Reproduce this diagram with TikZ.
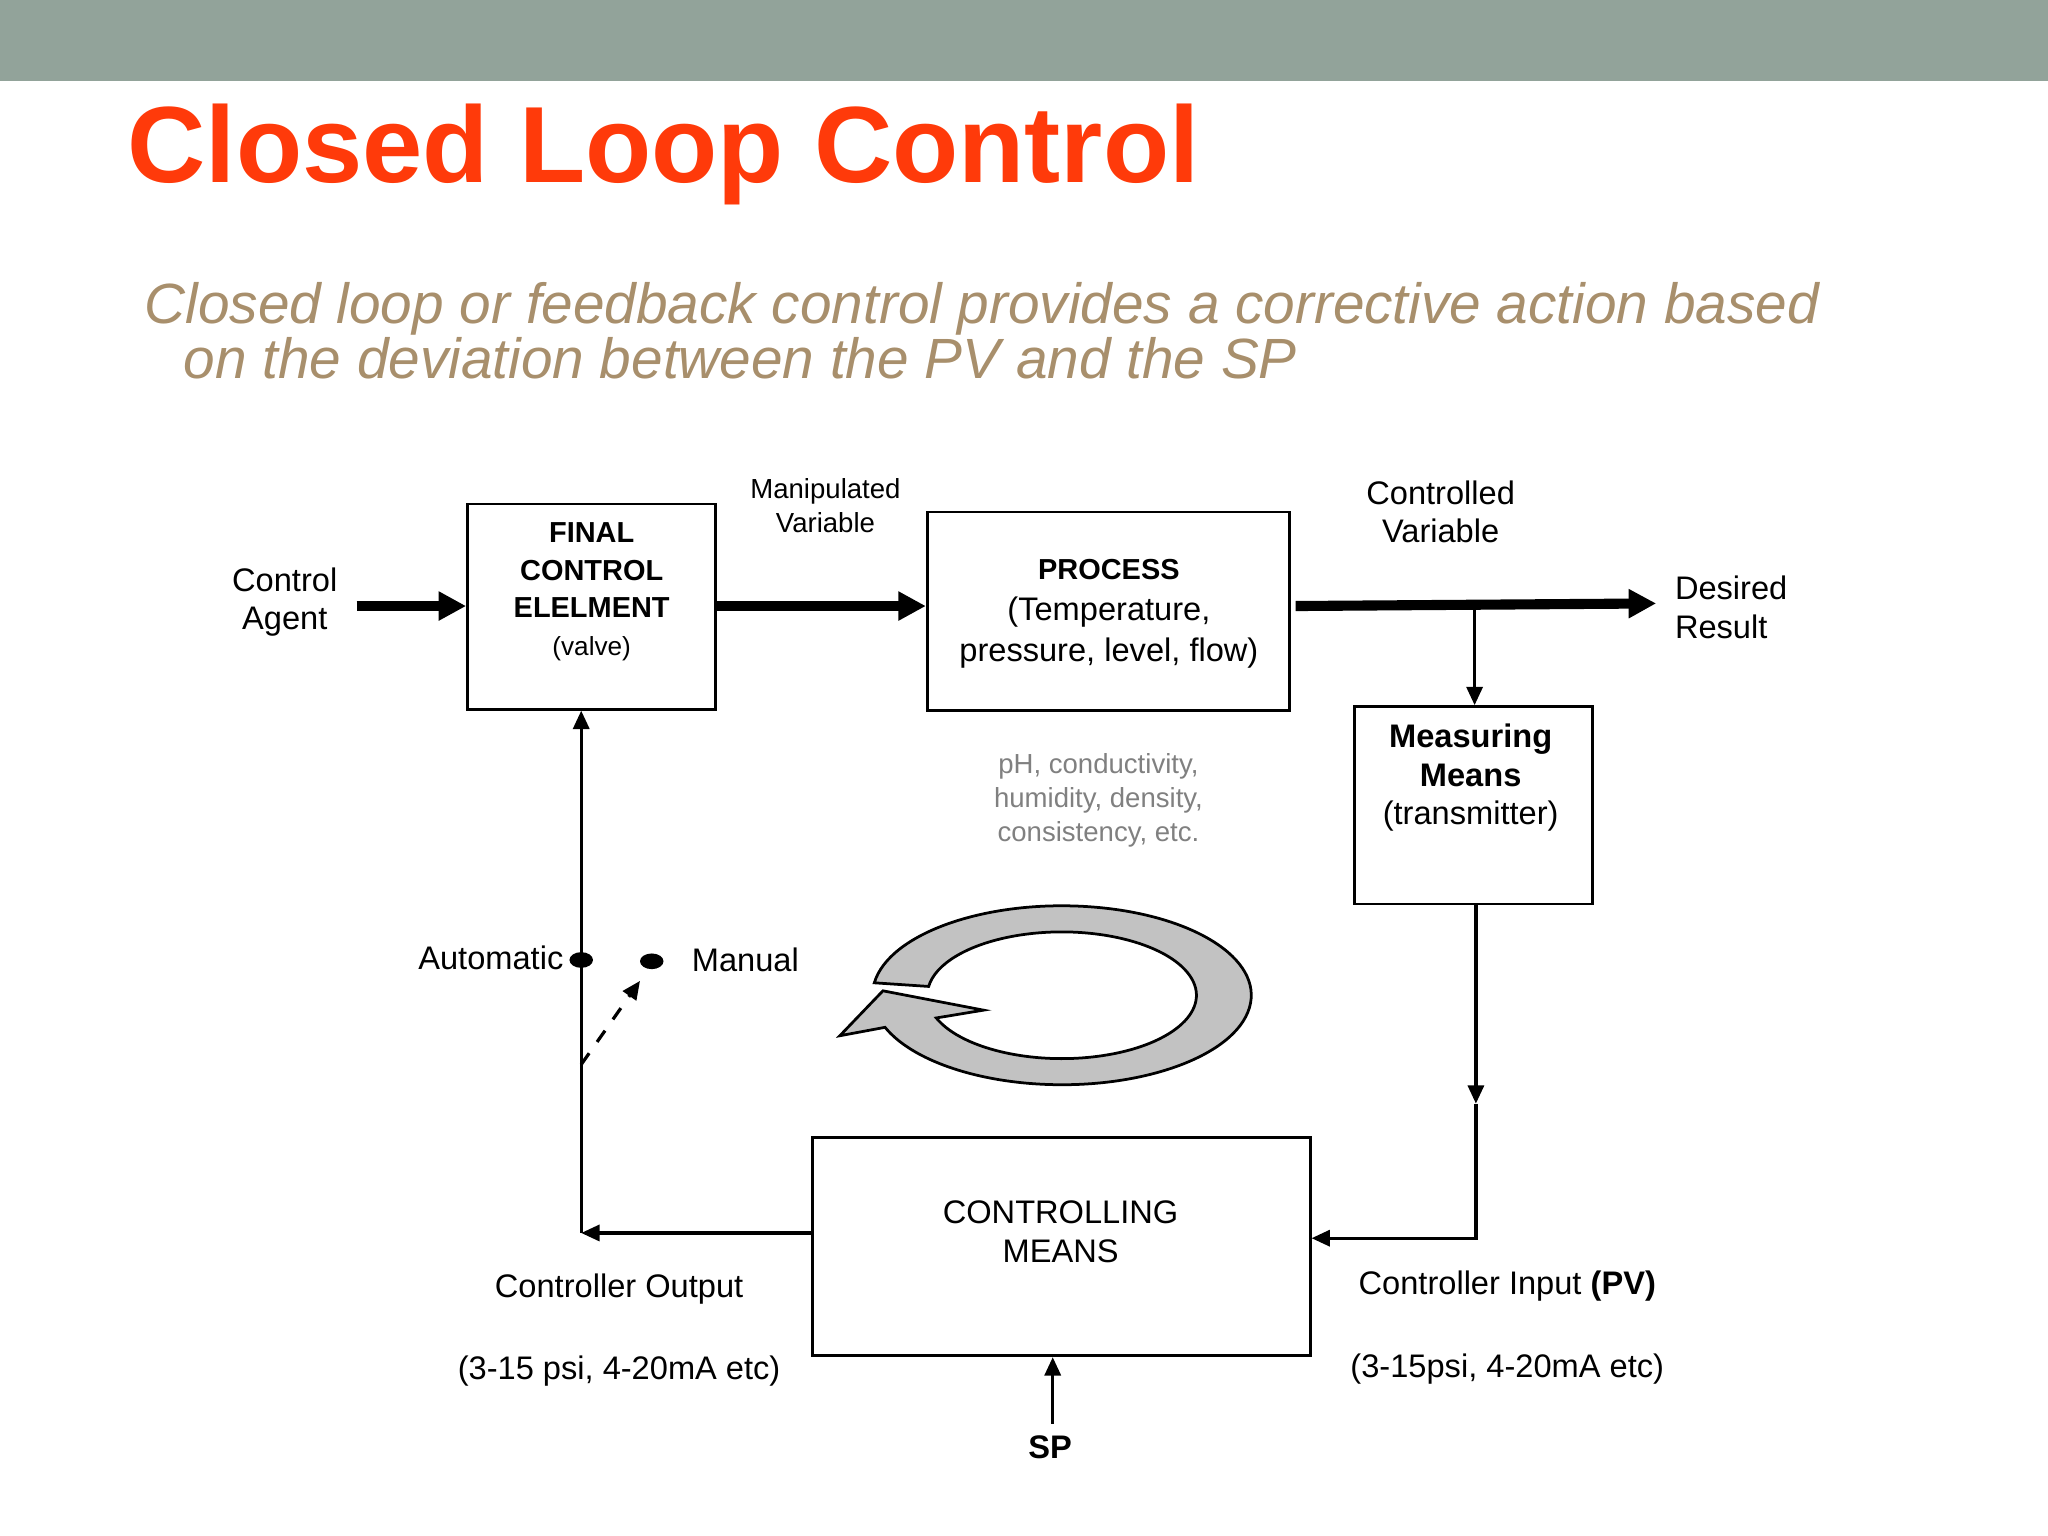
\documentclass[tikz,border=0pt]{standalone}
\usepackage{fontspec}
\setmainfont{Liberation Sans}
\usetikzlibrary{arrows.meta,calc}
\definecolor{band}{HTML}{92A39A}
\definecolor{ttl}{HTML}{FF3A0A}
\definecolor{sub}{HTML}{A88F6C}
\begin{document}
\begin{tikzpicture}[x=0.01cm,y=-0.01cm,
  box/.style={draw,line width=0.6pt,inner sep=0pt},
  thick/.style={line width=2.2pt,-{Triangle[length=6pt,width=6pt]}},
  thin/.style={line width=0.7pt,-{Triangle[length=4pt,width=3.5pt]}},
  lbl/.style={font=\fontsize{7.1}{8.4}\selectfont,align=center},
  btxt/.style={font=\fontsize{6.3}{8.2}\selectfont,align=center}]
\useasboundingbox (0,0) rectangle (1568,1176);
\fill[band] (0,0) rectangle (1568,62);
\node[anchor=base west,text=ttl,font=\bfseries\fontsize{23.6}{28}\selectfont,inner sep=0] (title) at (97,140) {Closed Loop Control};
\node[anchor=base west,text=sub,font=\itshape\fontsize{12.35}{14}\selectfont,inner sep=0] (s1) at (110,248) {Closed loop or feedback control provides a corrective action based};
\node[anchor=base west,text=sub,font=\itshape\fontsize{12.35}{14}\selectfont,inner sep=0] (s2) at (140,290) {on the deviation between the PV and the SP};
% boxes
\node[box,minimum width=1.9cm,minimum height=1.57cm] (fce) at (453,464.5) {};
\node[btxt] (fcet) at (453,453) {\textbf{FINAL}\\\textbf{CONTROL}\\\textbf{ELELMENT}\\{\fontsize{5.7}{7.5}\selectfont(valve)}};
\node[box,minimum width=2.77cm,minimum height=1.52cm] (proc) at (848.5,468) {};
\node[btxt,font=\fontsize{7.1}{9}\selectfont] (proct) at (849,470) {{\fontsize{6.3}{8}\selectfont\textbf{PROCESS}}\\(Temperature,\\pressure, level, flow)};
\node[box,minimum width=1.82cm,minimum height=1.51cm] (meas) at (1128,616.5) {};
\node[btxt,anchor=north,font=\fontsize{7.1}{8.4}\selectfont] (meastxt) at (1126,542) {\textbf{Measuring}\\\textbf{Means}\\(transmitter)};
\node[box,minimum width=3.81cm,minimum height=1.67cm] (cm) at (812.5,954.5) {};
\node[lbl] (cmt) at (812,943) {CONTROLLING\\MEANS};
% labels
\node[lbl] (ca) at (218,461) {Control\\Agent};
\node[lbl,font=\fontsize{6}{7.4}\selectfont] (mv) at (632,387) {Manipulated\\Variable};
\node[lbl] (cv) at (1103,392) {Controlled\\Variable};
\node[lbl,align=left,anchor=west] (dr) at (1270,465) {Desired\\Result};
\node[lbl,text=gray,font=\fontsize{6}{7.4}\selectfont] (ph) at (841,613) {pH, conductivity,\\humidity, density,\\consistency, etc.};
\node[lbl,anchor=east,inner sep=0] (auto) at (432,733) {Automatic};
\node[lbl,anchor=west,inner sep=0] (man) at (529,735) {Manual};
\node[lbl] (co) at (474,987) {Controller Output};
\node[lbl] (co2) at (474,1050) {(3-15 psi, 4-20mA etc)};
\node[lbl] (ci) at (1154,985) {Controller Input \textbf{(PV)}};
\node[lbl] (ci2) at (1154,1048) {(3-15psi, 4-20mA etc)};
\node[lbl,font=\bfseries\fontsize{7.1}{8}\selectfont] (sp) at (804,1108) {SP};
% coordinates
\coordinate (caE) at (273,464);
\coordinate (pE) at (992,464);
\coordinate (dre) at (1268,462);
\coordinate (br) at (1129,463);
\coordinate (m1) at (1130,845);
\coordinate (m2) at (1130,948);
\coordinate (o1) at (445,944);
\coordinate (sw) at (445,815);
\coordinate (spb) at (806,1090);
% connectors
\draw[thick] (caE) -- (fce.west |- caE);
\draw[thick] (fce.east |- caE) -- (proc.west |- caE);
\draw[thick] (pE) -- (dre);
\draw[thin] (br) -- (meas.north -| br);
\draw[thin] (meas.south -| m1) -- (m1);
\draw[thin] (m1) -- (m2) -- (cm.east |- m2);
\draw[thin] (cm.west |- o1) -- (o1);
\draw[thin] (o1) -- (fce.south -| o1);
\fill (445,735) ellipse (9 and 6);
\fill (499,736) ellipse (9 and 6);
\draw[thin,dashed] (sw) -- (490,751);
\draw[thin] (spb) -- (cm.south -| spb);
% circular arrow
\filldraw[fill=black!24,draw=black,line width=0.6pt]
  ($(813,762)+(172:145 and -68.5)$) arc[start angle=172,end angle=-159,x radius=145,y radius=-68.5]
  -- (643,793) -- (676,758.6) -- (753,773.4)
  -- ($(813,762)+(-159:103 and -48.5)$) arc[start angle=-159,end angle=172,x radius=103,y radius=-48.5] -- cycle;
\end{tikzpicture}
\end{document}
